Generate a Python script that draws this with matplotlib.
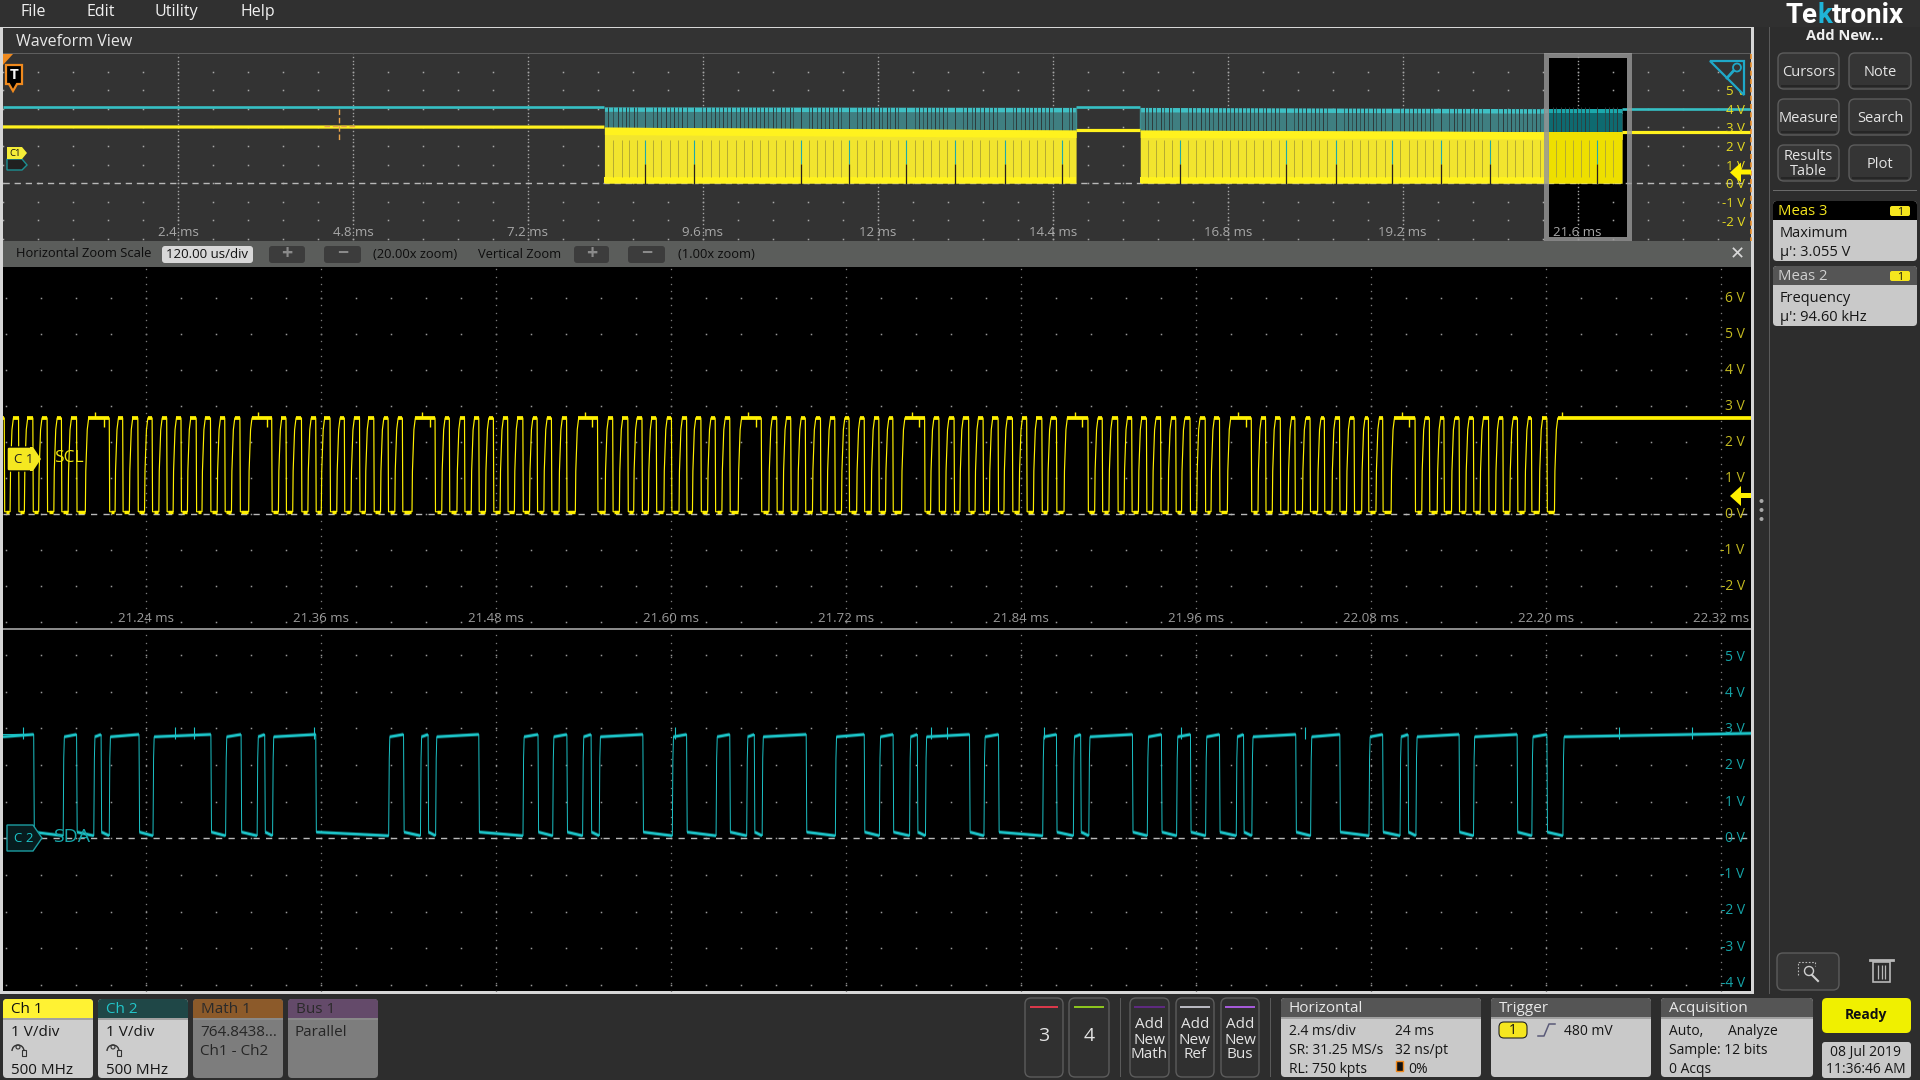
import matplotlib
matplotlib.use("Agg")
import numpy as np
import matplotlib.pyplot as plt
from matplotlib.patches import FancyBboxPatch, Rectangle, Polygon, Circle, Arc
from matplotlib.collections import LineCollection

plt.rcParams['font.family'] = ['Open Sans', 'DejaVu Sans']

# ------------------------------------------------------------------ data
# SCL edges, microseconds
scl_falls = [21142.8, 21152.6, 21162.4, 21172.2, 21182.0, 21192.4, 21214.8, 21224.0, 21234.4, 21244.2,
             21254.2, 21264.0, 21274.4, 21284.2, 21294.0, 21304.4, 21326.2, 21336.0, 21346.6, 21356.4,
             21366.2, 21376.0, 21386.4, 21396.2, 21406.0, 21415.8, 21438.2, 21448.0, 21458.4, 21468.2,
             21478.2, 21488.0, 21498.4, 21508.2, 21518.0, 21528.4, 21549.6, 21560.0, 21570.4, 21580.1,
             21589.9, 21600.3, 21610.7, 21620.5, 21630.3, 21640.3, 21661.9, 21672.5, 21682.1, 21692.1,
             21702.5, 21712.3, 21722.1, 21732.5, 21742.5, 21752.1, 21773.9, 21783.7, 21794.1, 21804.1,
             21814.0, 21824.3, 21834.1, 21843.9, 21854.3, 21864.3, 21885.9, 21895.7, 21906.3, 21915.9,
             21926.0, 21935.7, 21946.1, 21955.9, 21966.3, 21976.1, 21997.9, 22007.7, 22017.8, 22027.8,
             22038.2, 22048.0, 22058.4, 22068.4, 22078.2, 22088.0, 22110.2, 22120.0, 22130.0, 22140.4,
             22150.2, 22160.6, 22170.4, 22180.4, 22190.0, 22200.6]
scl_rises = [21147.8, 21157.6, 21167.4, 21177.8, 21187.6, 21199.4, 21219.8, 21229.6, 21240.0, 21249.8,
             21259.6, 21269.4, 21279.4, 21289.8, 21299.6, 21311.4, 21331.8, 21341.6, 21352.0, 21361.2,
             21371.8, 21381.6, 21391.4, 21401.8, 21411.6, 21423.4, 21443.8, 21454.2, 21464.0, 21473.8,
             21483.8, 21493.6, 21504.0, 21513.8, 21524.2, 21535.4, 21555.8, 21565.6, 21575.4, 21585.5,
             21596.1, 21606.5, 21615.7, 21626.1, 21635.9, 21647.1, 21668.1, 21677.9, 21688.0, 21698.0,
             21708.1, 21717.9, 21728.3, 21738.3, 21748.1, 21759.1, 21779.0, 21789.3, 21799.1, 21809.5,
             21819.3, 21829.3, 21839.7, 21849.5, 21859.3, 21870.5, 21891.5, 21901.3, 21911.7, 21921.5,
             21931.3, 21941.9, 21951.1, 21961.5, 21971.3, 21982.5, 22003.5, 22013.3, 22024.2, 22034.0,
             22044.4, 22054.2, 22064.2, 22074.6, 22084.4, 22094.8, 22115.8, 22126.4, 22136.2, 22146.0,
             22155.8, 22166.4, 22176.2, 22186.6, 22196.4, 22206.8]
scl_bumps = [21205, 21317, 21429, 21541, 21653, 21765, 21877, 21989, 22101, 22211]
scl_dips = [21211, 21323, 21435, 21546, 21658, 21770, 21882, 21994, 22106]

# SDA edges, microseconds
sda_falls = [21163.0, 21192.4, 21209.2, 21235.2, 21284.5, 21305.2, 21321.4, 21356.4, 21416.6, 21433.4,
             21468.2, 21508.8, 21528.6, 21545.2, 21580.7, 21610.7, 21640.3, 21657.1, 21692.7, 21732.5,
             21752.3, 21768.9, 21804.7, 21824.6, 21864.3, 21880.9, 21916.4, 21936.3, 21956.2, 21976.1,
             21992.6, 22028.4, 22058.6, 22088.0, 22105.4, 22140.4, 22180.2, 22200.6]
sda_rises = [21183.4, 21204.4, 21215.0, 21245.0, 21294.8, 21316.4, 21327.0, 21406.6, 21428.4, 21438.8,
             21498.7, 21519.1, 21539.6, 21551.0, 21601.1, 21631.1, 21652.1, 21662.7, 21712.9, 21743.1,
             21763.8, 21774.7, 21814.8, 21855.1, 21876.1, 21886.7, 21926.8, 21946.9, 21966.8, 21987.8,
             21998.5, 22038.8, 22078.8, 22100.1, 22111.0, 22150.5, 22190.5, 22211.8]
sda_spikes = [21156, 21260, 21273, 21355, 21603, 21778, 21789, 21856, 21950, 22035, 22250, 22300]

# Overview
burst_starts = [8.25, 15.60]
burst_ends = [14.72, 22.21]
notches = [8.81, 9.48, 10.94, 11.61, 12.39, 13.06, 13.74, 14.52, 16.15, 17.60, 18.28, 19.06, 19.73, 20.40, 21.86]
stripes = [8.37, 8.49, 8.59, 8.70, 8.92, 9.03, 9.15, 9.26, 9.38, 9.59, 9.71, 9.82, 9.93, 10.05, 10.16, 10.27,
           10.38, 10.50, 10.61, 10.73, 10.84, 11.05, 11.16, 11.28, 11.39, 11.50, 11.72, 11.84, 11.95, 12.06,
           12.17, 12.28, 12.51, 12.62, 12.73, 12.84, 12.95, 13.17, 13.29, 13.40, 13.52, 13.63, 13.85, 13.96,
           14.07, 14.18, 14.29, 14.40, 14.62, 15.71, 15.82, 15.93, 16.04, 16.26, 16.37, 16.49, 16.60, 16.72,
           16.83, 16.94, 17.05, 17.16, 17.28, 17.39, 17.51, 17.71, 17.82, 17.94, 18.05, 18.16, 18.39, 18.50,
           18.61, 18.73, 18.84, 18.96, 19.16, 19.28, 19.39, 19.51, 19.62, 19.84, 19.95, 20.06, 20.18, 20.29,
           20.51, 20.63, 20.74, 20.85, 20.97, 21.08, 21.20, 21.31, 21.42, 21.53, 21.65, 21.75, 21.97, 22.08]
teal_gaps = [8.30, 8.43, 8.54, 8.65, 8.81, 8.97, 9.09, 9.21, 9.32, 9.48, 9.64, 9.76, 9.88, 9.99, 10.11, 10.22,
             10.33, 10.44, 10.56, 10.67, 10.79, 10.94, 11.10, 11.22, 11.33, 11.45, 11.61, 11.78, 11.90, 12.01,
             12.12, 12.23, 12.39, 12.56, 12.68, 12.79, 12.90, 13.06, 13.23, 13.34, 13.46, 13.58, 13.74, 13.90,
             14.02, 14.13, 14.24, 14.35, 14.52, 14.66, 15.66, 15.76, 15.88, 15.99, 16.15, 16.31, 16.43, 16.54,
             16.66, 16.78, 16.89, 17.00, 17.11, 17.22, 17.33, 17.45, 17.60, 17.76, 17.88, 18.00, 18.11, 18.28,
             18.45, 18.56, 18.67, 18.79, 18.90, 19.06, 19.22, 19.34, 19.45, 19.57, 19.73, 19.90, 20.01, 20.12,
             20.24, 20.40, 20.57, 20.69, 20.80, 20.91, 21.03, 21.14, 21.26, 21.37, 21.48, 21.59, 21.70, 21.86,
             22.03, 22.14]
ov_times = [0, 8.25, 14.72, 15.60, 22.21, 23.98]
ov_yellow = [3.03, 3.02, 2.86, 2.86, 2.76, 2.76]
ov_cyan = [4.11, 4.11, 4.08, 4.08, 4.00, 4.00]

ov_ticks = [2.4, 4.8, 7.2, 9.6, 12, 14.4, 16.8, 19.2, 21.6]
ov_ticklabels = ['2.4 ms', '4.8 ms', '7.2 ms', '9.6 ms', '12 ms', '14.4 ms', '16.8 ms', '19.2 ms', '21.6 ms']
ov_volts = [5, 4, 3, 2, 1, 0, -1, -2]
det_ticks = [21240, 21360, 21480, 21600, 21720, 21840, 21960, 22080, 22200, 22320]
det_ticklabels = ['21.24 ms', '21.36 ms', '21.48 ms', '21.60 ms', '21.72 ms', '21.84 ms', '21.96 ms',
                  '22.08 ms', '22.20 ms', '22.32 ms']
scl_volts = [6, 5, 4, 3, 2, 1, 0, -1, -2]
sda_volts = [5, 4, 3, 2, 1, 0, -1, -2, -3, -4]

# ------------------------------------------------------------------ helpers
W, H = 1920, 1080
YEL, CYA = '#FFF000', '#1CC4C8'
fig = plt.figure(figsize=(19.2, 10.8), dpi=100, facecolor='#2d2d2d')


def px_axes(x0, y0, x1, y1, **kw):
    return fig.add_axes([x0 / W, 1 - y1 / H, (x1 - x0) / W, (y1 - y0) / H], **kw)


base = px_axes(0, 0, W, H, zorder=0)
top = px_axes(0, 0, W, H, zorder=5)
for a in (base, top):
    a.set_xlim(0, W)
    a.set_ylim(H, 0)
    a.axis('off')
top.patch.set_alpha(0)


def rect(ax, x0, y0, x1, y1, fc, ec='none', lw=0, z=1, alpha=None):
    ax.add_patch(Rectangle((x0, y0), x1 - x0, y1 - y0, fc=fc, ec=ec, lw=lw, zorder=z, alpha=alpha))


def rrect(ax, x0, y0, x1, y1, fc, ec='none', lw=0, r=5, z=1):
    ax.add_patch(FancyBboxPatch((x0, y0), x1 - x0, y1 - y0, boxstyle=f'round,pad=0,rounding_size={r}',
                                fc=fc, ec=ec, lw=lw, zorder=z))


def txt(x, y, s, size=10.5, color='#e6e6e6', ha='left', weight='normal', va='center', z=10, **kw):
    return top.text(x, y + 1.2, s, fontsize=size, color=color, ha=ha, va=va, fontweight=weight, zorder=z, **kw)


def button(x0, y0, x1, y1, label, size=10.5):
    rrect(top, x0, y0, x1, y1, '#353535', '#5c5c5c', 1.0, r=6, z=3)
    rect(top, x0 + 3, y1 - 4, x1 - 3, y1 - 2, '#262626', z=4)
    txt((x0 + x1) / 2, (y0 + y1) / 2, label, size, '#e4e4e4', 'center', z=6, linespacing=1.05)


def card(x0, y0, x1, y1, hy, hc, bc, title, tc):
    rrect(top, x0, y0, x1, y1, bc, r=4, z=3)
    rrect(top, x0, y0, x1, hy + 5, hc, r=4, z=4)
    rect(top, x0, hy, x1, hy + 6, bc, z=4)
    rect(top, x0, hy, x1, hy + 2, '#8f8f8f', z=5, alpha=0.7)
    txt(x0 + 8, (y0 + hy) / 2, title, 11, tc, z=6)


# ------------------------------------------------------------------ chrome, static frames
rect(base, 0, 0, W, 27, '#303030')
rect(base, 0, 27, 1754, 994, '#d6d6d6')
rect(base, 3, 28, 1751, 53, '#333333')
rect(base, 3, 53, 1751, 54, '#5e5e5e')
rect(base, 3, 241, 1751, 267, '#5b5d5b')
rect(base, 3, 628, 1751, 630, '#8a8a8a')
rect(base, 1754, 27, 1769, 994, '#2d2d2d')
rect(base, 1769, 27, 1770, 994, '#5a5a5a')
rect(base, 1770, 27, W, 994, '#2d2d2d')

for x, s in zip([20, 86, 155, 241], ['File', 'Edit', 'Utility', 'Help']):
    txt(x, 11, s, 11.5, '#f0f0f0')
txt(16, 40.5, 'Waveform View', 11.5, '#e8e8e8')

# zoom bar
txt(16, 252.5, 'Horizontal Zoom Scale', 9.3, '#0d0d0d')
rrect(top, 162, 246, 253, 263, '#d8d8d8', r=3, z=3)
txt(207.5, 253, '120.00 us/div', 9.5, '#111111', 'center')
for x0, x1, s in [(269, 305, '+'), (324, 361, '\u2212'), (574, 609, '+'), (628, 665, '\u2212')]:
    rrect(top, x0, 246, x1, 263, '#3c3c3c', r=3, z=3)
    txt((x0 + x1) / 2, 252.5, s, 14, '#8a8a8a', 'center', 'bold')
txt(373, 253, '(20.00x zoom)', 9.3, '#0d0d0d')
txt(478.5, 253, 'Vertical Zoom', 9.3, '#0d0d0d')
txt(678.5, 253, '(1.00x zoom)', 9.3, '#0d0d0d')
txt(1737, 253, '\u2715', 13, '#d8d8d8', 'center')

# ------------------------------------------------------------------ overview panel
ovx = px_axes(3, 54, 1751, 241, zorder=1, facecolor='#333333')
OV_PXV = 18.6
ovx.set_xlim(0, (1751 - 3) / 72.9)
ovx.set_ylim(-(241 - 183.3) / OV_PXV, (183.3 - 54) / OV_PXV)
det_x0 = 21240 - (146 - 3) * 0.68571
det_x1 = 21240 + (1751 - 146) * 0.68571
sel0, sel1 = det_x0 / 1000, det_x1 / 1000
ovx.axvspan(sel0, sel1, color='black', lw=0, zorder=0.5)

# grid dots
gx = np.arange(0, 24, 2.4 / 5)
gy = np.arange(-3, 7)
GX, GY = np.meshgrid(gx, gy)
ovx.plot(GX.ravel(), GY.ravel(), ls='', marker='s', ms=1.1, mew=0, color='#a8a8a8', zorder=0.8)
for t in ov_ticks:
    ovx.plot([t] * 52, np.arange(-3.2, 7.2, 0.2), ls='', marker='s', ms=1.0, mew=0, color='#a4a4a4', zorder=0.8)
ovx.axhline(0, color='#b8b8b8', lw=1, dashes=(4.5, 3.5), zorder=0.9)

bs = burst_starts
be = burst_ends
# teal envelope
for s, e in zip(bs, be):
    lvl = np.interp([s, e], ov_times, ov_cyan)
    ovx.fill_between([s, e], 2.7, lvl - 0.2, color='#3F7F81', lw=0, zorder=1.0)
    ovx.fill_between([s, e], lvl - 0.24, lvl, color='#3FC0C4', lw=0, zorder=1.1)
ovx.fill_between([sel0, be[1]], 2.7, 3.76, color='#0E6A70', lw=0, zorder=1.15)
ovx.fill_between([sel0, be[1]], 3.76, 4.0, color='#1BA8AC', lw=0, zorder=1.16)
ovx.vlines(stripes, 2.7, 4.1, color='#2E4344', lw=0.55, zorder=1.2)
ovx.vlines(teal_gaps, 2.7, 4.1, color='#2E3A3B', lw=0.7, zorder=1.2)

# flat traces
for i in (0, 2, 4):
    ovx.plot(ov_times[i:i + 2], ov_cyan[i:i + 2], color='#36C0C4', lw=1.9, solid_capstyle='butt', zorder=1.3)
    ovx.plot(ov_times[i:i + 2], ov_yellow[i:i + 2], color='#FFF21E', lw=2.3, solid_capstyle='butt', zorder=1.3)
ovx.vlines(be[0], 2.9, 4.05, color='#3F8F92', lw=1, zorder=1.2)
ovx.vlines(bs[1], 2.9, 4.05, color='#3F8F92', lw=1, zorder=1.2)

# yellow envelope
for s, e in zip(bs, be):
    lvl = np.interp([s, e], ov_times, ov_yellow)
    ovx.fill_between([s, e], 0, lvl, color='#F2E52E', lw=0, zorder=1.5)
    ovx.fill_between([s, e], lvl - 0.4, lvl, color='#FFF21E', lw=0, zorder=1.6)
    ovx.fill_between([s, e], 0, 0.35, color='#FFF21E', lw=0, zorder=1.6)
ovx.fill_between([sel0, be[1]], 0, 2.76, color='#EEDF00', lw=0, zorder=1.65)
ovx.vlines(stripes, 0.35, 2.35, color='#B5AB32', lw=0.7, zorder=1.7)
ovx.vlines(notches, 1.05, 2.35, color='#1FA8AA', lw=0.8, zorder=1.75)
ovx.vlines(notches, -0.02, 1.05, color='#222222', lw=0.9, zorder=1.75)

ovx.set_xticks(ov_ticks, ov_ticklabels)
ovx.tick_params(axis='x', length=0, pad=-11, labelsize=9.5, labelcolor='#a8a8a8')
ovx.yaxis.tick_right()
ovx.set_yticks(ov_volts, [f'{v} V' for v in ov_volts])
ovx.tick_params(axis='y', length=0, pad=-4.5, labelsize=9.5, labelcolor='#E8DC20')
for lab in ovx.get_yticklabels():
    lab.set_ha('right')
for sp in ovx.spines.values():
    sp.set_visible(False)

# ------------------------------------------------------------------ detail panels


def detail_axes(y0, y1, zero_px, pxv, volts, labcolor, time_labels, dot_factor=1.0):
    ax = px_axes(3, y0, 1751, y1, zorder=1, facecolor='black')
    ax.set_xlim(det_x0, det_x1)
    ax.set_ylim(-(y1 - zero_px) / pxv, (zero_px - y0) / pxv)
    minor = np.arange(21240 - 120, 22400, 24)
    vrows = np.arange(-6, 8) * dot_factor
    MX, MY = np.meshgrid(minor, vrows)
    ax.plot(MX.ravel(), MY.ravel(), ls='', marker='s', ms=1.1, mew=0, color='#989898', zorder=0.8)
    for t in det_ticks:
        ax.plot([t] * 70, np.arange(-7, 7, 0.2), ls='', marker='s', ms=0.95, mew=0, color='#7c7c7c', zorder=0.8)
    ax.axhline(0, color='#b8b8b8', lw=1, dashes=(4.5, 4.5), zorder=0.9)
    ax.set_xticks(det_ticks, time_labels)
    ax.tick_params(axis='x', length=0, pad=-11.5, labelsize=9.5, labelcolor='#9a9a9a')
    ax.yaxis.tick_right()
    ax.set_yticks(volts, [f'{v} V' for v in volts])
    ax.tick_params(axis='y', length=0, pad=-4.5, labelsize=10, labelcolor=labcolor)
    for lab in ax.get_yticklabels():
        lab.set_ha('right')
        lab.set_va('center')
    for sp in ax.spines.values():
        sp.set_visible(False)
    return ax


scl = detail_axes(267, 628, 514.3, 36.0, scl_volts, '#C4BA20', det_ticklabels)
sda = detail_axes(630, 991, 838.3, 36.25, sda_volts, '#15A4A8', [''] * len(det_ticks), 36.7 / 36.25)

# SCL trace
HI, LO = 2.68, 0.07
xs, ys = [det_x0], [HI]
tops, lows = [], []
last = det_x0
for f, r in zip(scl_falls, scl_rises):
    xs += [f, f + 0.3, r - 1.0, r - 0.7, r - 0.2, r + 0.3, r + 1.3]
    ys += [HI, LO, LO, 1.2, 1.8, 2.35, HI]
    tops.append([(last, HI), (f, HI)])
    lows.append([(f + 1.0, LO), (r - 1.4, LO)])
    last = r + 1.1
xs.append(det_x1)
ys.append(HI)
tops.append([(last, HI), (det_x1, HI)])
scl.plot(xs, ys, color=YEL, lw=0.85, zorder=2, solid_joinstyle='miter')
scl.add_collection(LineCollection(tops, colors=YEL, linewidths=2.7, capstyle='butt', zorder=2.1))
scl.add_collection(LineCollection(lows, colors=YEL, linewidths=2.5, capstyle='butt', zorder=2.1))
scl.vlines(scl_bumps, HI, 2.84, color=YEL, lw=1.0, zorder=2.2)
scl.vlines(scl_dips, 2.42, HI, color=YEL, lw=1.0, zorder=2.2)

# SDA trace
H0, H1, L0, L1 = 2.80, 2.865, 0.17, 0.07
xs, ys = [det_x0], [H1]
tops, lows = [], []
last = det_x0
for f, r in zip(sda_falls, sda_rises):
    xs += [f, f + 0.4, r - 0.2, r + 0.2, r + 0.6]
    ys += [H1, L0, L1, 2.2, H0]
    tops.append([(last, H0), (f, H1)])
    lows.append([(f + 0.4, L0), (r - 0.2, L1)])
    last = r + 0.6
xs.append(det_x1)
ys.append(H1 + 0.03)
tops.append([(last, H0), (det_x1, H1 + 0.03)])
sda.plot(xs, ys, color=CYA, lw=0.7, zorder=2, solid_joinstyle='miter')
sda.add_collection(LineCollection(tops, colors=CYA, linewidths=2.9, capstyle='butt', alpha=0.4, zorder=2.05))
sda.add_collection(LineCollection(lows, colors=CYA, linewidths=2.9, capstyle='butt', alpha=0.4, zorder=2.05))
sda.add_collection(LineCollection(tops, colors=CYA, linewidths=1.6, capstyle='butt', zorder=2.1))
sda.add_collection(LineCollection(lows, colors=CYA, linewidths=1.6, capstyle='butt', zorder=2.1))
sda.vlines(sda_spikes, 2.73, 3.06, color=CYA, lw=0.8, zorder=2.2)

# ------------------------------------------------------------------ overlays
# selection frame over the overview
x0 = 3 + sel0 * 72.9
x1 = 3 + sel1 * 72.9
for a, b, c, d in [(x0, 53, x0 + 4.5, 241), (x1 - 4.5, 53, x1, 241), (x0 + 4.5, 53, x1 - 4.5, 58),
                   (x0 + 4.5, 237, x1 - 4.5, 241)]:
    rect(top, a, b, c, d, '#9a9a9a', z=2, alpha=0.85)

# right orange dashed edge
top.plot([1750.5, 1750.5], [54, 241], color='#F0922A', lw=1.2, dashes=(3, 2), zorder=3)
# trigger markers
top.add_patch(Polygon([(3, 54), (13, 54), (3, 65)], fc='#F08A1E', zorder=4))
top.add_patch(Polygon([(6, 65), (22, 65), (22, 84), (17, 84), (13, 91), (9, 84), (6, 84)], fc='black', ec='#F08A1E', lw=1.6, zorder=4))
txt(14, 73.5, 'T', 11, '#F5F5F5', 'center', 'bold')
top.plot([339, 339], [109, 141], color='#E8A44C', lw=1.0, dashes=(4, 2), zorder=4)
top.plot([324, 355], [126, 126], color='#E8A44C', lw=1.0, dashes=(4, 2), zorder=4)

# scale flags in overview
top.add_patch(Polygon([(7, 159), (22, 159), (27, 165), (22, 170), (7, 170)], fc='#202020', ec='#1C8F92', lw=1, zorder=4))
top.add_patch(Polygon([(7, 147), (22, 147), (27, 153), (22, 159), (7, 159)], fc='#F5EE38', zorder=5))
txt(15, 152, 'C1', 6.8, '#111111', 'center', z=6)

# roll-off icon
top.add_patch(Polygon([(1710, 61), (1744, 61), (1744, 95)], fc='#333333', ec='#1FA8C8', lw=1.6, zorder=4))
top.plot([1727, 1736], [78, 68], color='#1FA8C8', lw=2, zorder=5)
top.add_patch(Circle((1737, 67.5), 4, fc='#333333', ec='#1FA8C8', lw=1.3, zorder=6))

# ground arrows


def arrow(y):
    top.add_patch(Polygon([(1730, y), (1741, y - 10), (1741, y - 3), (1751, y - 3), (1751, y + 2), (1741, y + 2),
                           (1741, y + 10)], fc=YEL, zorder=6))


arrow(172.5)
arrow(496)
for y in (501, 510, 519):
    top.add_patch(Circle((1761.5, y), 2.0, fc='#a8a8a8', zorder=6))

# detail flags
top.add_patch(FancyBboxPatch((7, 447), 26, 24, boxstyle='round,pad=0,rounding_size=2', fc='#F5E820', zorder=4))
top.add_patch(Polygon([(30, 447), (33, 447), (41, 459), (33, 471), (30, 471)], fc='#F5E820', zorder=4))
txt(24, 458, 'C 1', 9.5, '#222222', 'center')
txt(54, 457, 'SCL', 12.5, '#F2E610')
top.add_patch(Polygon([(7, 825), (33, 825), (42, 838), (33, 851), (7, 851)], fc='#071C1E', ec='#1C9DA2', lw=1, zorder=4))
txt(24, 837, 'C 2', 9.5, '#1CC4C8', 'center')
txt(53, 836, 'SDA', 14, '#17A5A9')

# ------------------------------------------------------------------ right side
fig.canvas.draw()
rend = fig.canvas.get_renderer()
inv = top.transData.inverted()
cx = 1786
for part, colr in [('Te', 'white'), ('k', '#1FB4D8'), ('tronix', 'white')]:
    t = txt(cx, 14, part, 20, colr, weight='bold', family=['Roboto', 'DejaVu Sans'])
    bb = t.get_window_extent(rend)
    cx = inv.transform((bb.x1, bb.y0))[0] - 0.5
txt(1845, 35, 'Add New...', 10.5, '#f0f0f0', 'center', 'bold')

button(1778, 53, 1839, 89, 'Cursors')
button(1849, 53, 1911, 89, 'Note')
button(1778, 99, 1839, 135, 'Measure')
button(1849, 99, 1911, 135, 'Search')
button(1778, 145, 1839, 181, 'Results\nTable')
button(1849, 145, 1911, 181, 'Plot')
rect(top, 1773, 190, 1917, 191, '#6a6a6a', z=3)

for y0, y1, hy, hc, title, tc, l1, l2 in [
    (201, 261, 220, 'black', 'Meas 3', '#F5E61E', 'Maximum', "\u00b5': 3.055 V"),
    (266, 326, 285, '#555555', 'Meas 2', '#d0d0d0', 'Frequency', "\u00b5': 94.60 kHz")]:
    rrect(top, 1773, y0, 1917, y1, '#c9c9c9', r=4, z=3)
    rrect(top, 1773, y0, 1917, hy + 4, hc, r=4, z=4)
    rect(top, 1773, hy, 1917, hy + 5, '#c9c9c9', z=4)
    txt(1778, (y0 + hy) / 2, title, 10.7, tc, z=6)
    rrect(top, 1890, y0 + 5, 1910, y0 + 15, '#F5E61E', r=2, z=5)
    txt(1900, y0 + 10, '1', 7.5, '#111111', 'center', z=6)
    txt(1780, hy + 12, l1, 10.5, '#161616', z=6)
    txt(1780, hy + 31, l2, 10.5, '#161616', z=6)

# lower icons
rrect(top, 1777, 953, 1839, 990, '#353535', '#5c5c5c', 1, r=6, z=3)
rrect(top, 1849, 953, 1911, 990, '#2d2d2d', r=6, z=3)
top.plot([1798, 1798, 1815, 1815], [975, 962, 962, 966], color='#b8b8b8', lw=0.8, dashes=(1.5, 1.5), zorder=5)
top.add_patch(Circle((1809, 971), 4.5, fc='none', ec='#d0d0d0', lw=1, zorder=5))
top.plot([1812, 1818], [975, 981], color='#d0d0d0', lw=1.5, zorder=5)
top.add_patch(Rectangle((1873, 962), 17, 20, fc='none', ec='#b8b8b8', lw=1.2, zorder=5))
top.plot([1870, 1893], [960, 960], color='#b8b8b8', lw=2, zorder=5)
top.vlines([1878, 1881.5, 1885], 965, 979, color='#b8b8b8', lw=0.9, zorder=5)

# ------------------------------------------------------------------ bottom bar
for x0, x1, hc, bc, title, tc in [(3, 93, '#FFF233', '#cdcdcd', 'Ch 1', '#111111'),
                                  (98, 188, '#1F4747', '#cdcdcd', 'Ch 2', '#22C4C8'),
                                  (193, 283, '#8C5A2A', '#7d7d7d', 'Math 1', '#2a2a2a'),
                                  (288, 378, '#644A6A', '#7d7d7d', 'Bus 1', '#2a2a2a')]:
    card(x0, 999, x1, 1078, 1018, hc, bc, title, tc)
for x in (11, 106):
    txt(x, 1031, '1 V/div', 11, '#161616')
    txt(x, 1069, '500 MHz', 11, '#161616')
    top.add_patch(Arc((x + 7, 1051), 12, 12, theta1=180, theta2=360, ec='#333333', lw=1, zorder=6))
    top.add_patch(Rectangle((x + 11, 1050), 4, 6, fc='none', ec='#333333', lw=0.8, zorder=6))
    top.add_patch(Circle((x + 7, 1047), 2, fc='none', ec='#333333', lw=0.8, zorder=6))
txt(200, 1031, '764.8438...', 11, '#262626')
txt(200, 1050, 'Ch1 - Ch2', 11, '#262626')
txt(295, 1031, 'Parallel', 11, '#262626')

for x0, x1, colr, s in [(1025, 1063, '#D9384A', '3'), (1069, 1109, '#8CC51E', '4')]:
    rrect(top, x0, 998, x1, 1077, '#303030', '#5c5c5c', 1, r=6, z=3)
    rect(top, x0 + 5, 1006, x1 - 5, 1008, colr, z=5)
    txt((x0 + x1) / 2, 1035, s, 14, '#e4e4e4', 'center')
for x0, x1, colr, s in [(1130, 1169, '#5E2A80', 'Add\nNew\nMath'), (1176, 1214, '#b8b8c0', 'Add\nNew\nRef'),
                        (1221, 1259, '#A55AD8', 'Add\nNew\nBus')]:
    rrect(top, x0, 998, x1, 1077, '#303030', '#5c5c5c', 1, r=6, z=3)
    rect(top, x0 + 4, 1006, x1 - 4, 1008, colr, z=5)
    top.text((x0 + x1) / 2, 1040, s, fontsize=11, color='#e4e4e4', ha='center', va='center',
             linespacing=1.0, zorder=6)
rect(top, 1120, 998, 1121, 1077, '#5a5a5a', z=3)
rect(top, 1270, 998, 1271, 1077, '#5a5a5a', z=3)

card(1281, 998, 1481, 1077, 1017, '#555555', '#c9c9c9', 'Horizontal', '#e8e8e8')
card(1491, 998, 1651, 1077, 1017, '#555555', '#c9c9c9', 'Trigger', '#e8e8e8')
card(1661, 998, 1813, 1077, 1017, '#555555', '#c9c9c9', 'Acquisition', '#e8e8e8')
for x, y, s in [(1289, 1030, '2.4 ms/div'), (1395, 1030, '24 ms'), (1289, 1049, 'SR: 31.25 MS/s'),
                (1395, 1049, '32 ns/pt'), (1289, 1068, 'RL: 750 kpts'), (1408, 1068, '0%'),
                (1564, 1030, '480 mV'), (1669, 1030, 'Auto,'), (1728, 1030, 'Analyze'),
                (1669, 1049, 'Sample: 12 bits'), (1669, 1068, '0 Acqs')]:
    txt(x, y, s, 10, '#161616')
rect(top, 1396, 1061, 1403, 1071, '#111111', '#F08A1E', 1, z=6)
rrect(top, 1499, 1022, 1527, 1038, '#F5E61E', '#222222', 0.8, r=5, z=5)
txt(1513, 1029, '1', 10, '#111111', 'center')
top.plot([1538, 1544, 1549, 1555], [1036, 1036, 1024, 1024], color='#5a5a78', lw=1.1, zorder=6)
rrect(top, 1822, 998, 1911, 1033, '#F0F000', r=5, z=3)
txt(1866, 1014, 'Ready', 10, '#111111', 'center', 'bold')
rrect(top, 1822, 1042, 1911, 1078, '#c9c9c9', r=3, z=3)
txt(1866, 1051, '08 Jul 2019', 10, '#161616', 'center')
txt(1866, 1068, '11:36:46 AM', 10, '#161616', 'center')

fig.savefig('out.png', dpi=100, facecolor=fig.get_facecolor())
